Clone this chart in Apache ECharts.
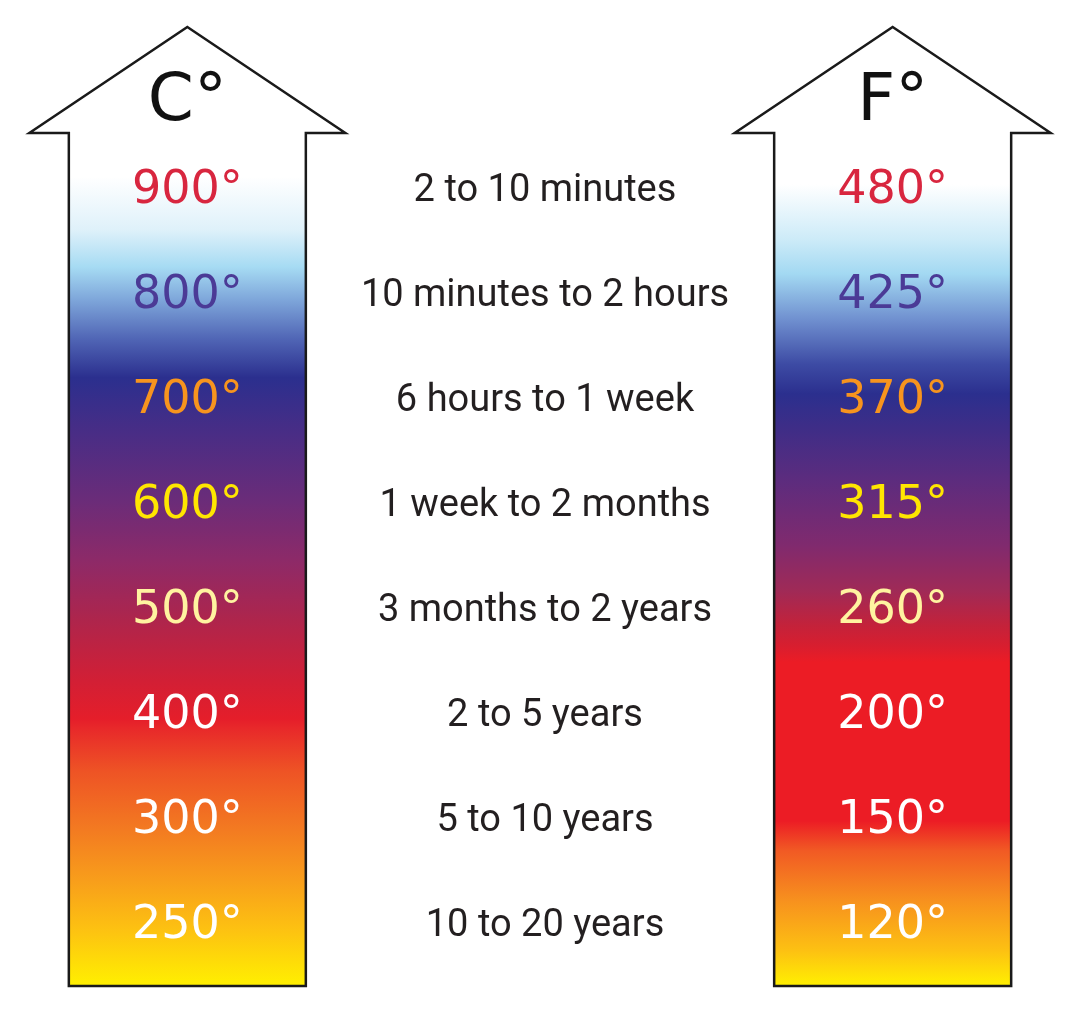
<!DOCTYPE html>
<html><head><meta charset="utf-8">
<script src="https://cdn.jsdelivr.net/npm/echarts@6/dist/echarts.min.js"></script>
<style>html,body{margin:0;padding:0;background:#fff}#c{width:1080px;height:1014px}</style>
</head><body><div id="c"></div>
<script>
// ---- data ----
const units = ['C°', 'time', 'F°'];
const durations = ['2 to 10 minutes', '10 minutes to 2 hours', '6 hours to 1 week', '1 week to 2 months',
  '3 months to 2 years', '2 to 5 years', '5 to 10 years', '10 to 20 years'];
const celsius = ['900°', '800°', '700°', '600°', '500°', '400°', '300°', '250°'];
const fahrenheit = ['480°', '425°', '370°', '315°', '260°', '200°', '150°', '120°'];
const labelColors = ['#d8263f', '#4b3a96', '#f7941e', '#ffe600', '#fff3a0', '#ffffff', '#ffffff', '#ffffff'];
const celsiusStops = [[0, '#ffffff'], [.157, '#ffffff'], [.212, '#dff1fa'], [.251, '#a6dbf3'], [.285, '#7ea6da'],
  [.326, '#5065b5'], [.366, '#2b2f8e'], [.420, '#472d86'], [.493, '#6a2c79'], [.556, '#8d2a68'], [.618, '#ae254c'],
  [.681, '#d21f35'], [.721, '#e51e2a'], [.731, '#e8292a'], [.775, '#ee5325'], [.837, '#f37b21'], [.889, '#f89e1b'],
  [.942, '#fdc311'], [1, '#fff100']];
const fahrenheitStops = [[0, '#ffffff'], [.165, '#ffffff'], [.222, '#cdebf8'], [.258, '#a3d9f2'], [.306, '#6f8fcf'],
  [.352, '#3d4ba4'], [.383, '#2b2f8e'], [.418, '#3e2d87'], [.472, '#5c2c7e'], [.540, '#802a6e'], [.587, '#9f2a57'],
  [.624, '#c4223a'], [.645, '#d81e2f'], [.662, '#ec1c25'], [.827, '#ec1c25'], [.858, '#f15a24'], [.910, '#f7911e'],
  [.962, '#fdc112'], [1, '#fff200']];

// ---- chart ----
const arrowStops = [celsiusStops, fahrenheitStops];
const numFont = 'DejaVu Sans';
const hidden = { color: 'rgba(0,0,0,0)', opacity: 1 };
function tempSeries(col, values) {
  return {
    type: 'scatter', z: 3, symbolSize: 1, itemStyle: hidden, silent: true,
    data: values.map((v, i) => ({
      value: [col, durations[i]],
      label: { formatter: v, color: labelColors[i] }
    })),
    label: { show: true, position: 'inside', offset: [0, 4], fontFamily: numFont, fontSize: 46 }
  };
}
const chart = echarts.init(document.getElementById('c'));
chart.setOption({
  animation: false,
  grid: { left: 11, right: 11, top: 135, height: 840 },
  xAxis: {
    type: 'category', data: units, position: 'top', z: 10,
    axisLine: { show: false }, axisTick: { show: false }, splitLine: { show: false },
    axisLabel: {
      interval: 0, fontFamily: numFont, fontSize: 66, color: '#111111', margin: 32, verticalAlign: 'middle',
      formatter: v => (v === 'time' ? '' : v)
    }
  },
  yAxis: {
    type: 'category', data: durations, inverse: true, show: false
  },
  series: [
    {
      type: 'custom', z: 1, silent: true,
      data: [[0, 0], [2, 0]],
      renderItem: function (params, api) {
        const cx = api.coord([api.value(0), 0])[0];
        const cs = params.coordSys;
        const top = cs.y - 2, bottom = cs.y + cs.height + 11, tip = cs.y - 108;
        const sw = 118.5, hw = 158;
        return {
          type: 'polygon',
          shape: { points: [[cx, tip], [cx + hw, top], [cx + sw, top], [cx + sw, bottom], [cx - sw, bottom], [cx - sw, top], [cx - hw, top]] },
          style: {
            fill: { type: 'linear', x: 0, y: 0, x2: 0, y2: 1, colorStops: arrowStops[params.dataIndex].map(s => ({ offset: s[0], color: s[1] })) },
            stroke: '#1a1a1a', lineWidth: 2.5, lineJoin: 'miter'
          }
        };
      }
    },
    tempSeries(0, celsius),
    tempSeries(2, fahrenheit),
    {
      type: 'scatter', z: 3, symbolSize: 1, itemStyle: hidden, silent: true,
      data: durations.map(d => [1, d, d]),
      label: {
        show: true, position: 'inside', offset: [5, 4], formatter: p => p.value[2],
        fontFamily: 'Roboto', fontSize: 38, color: '#231f20'
      }
    }
  ]
});
</script></body></html>
